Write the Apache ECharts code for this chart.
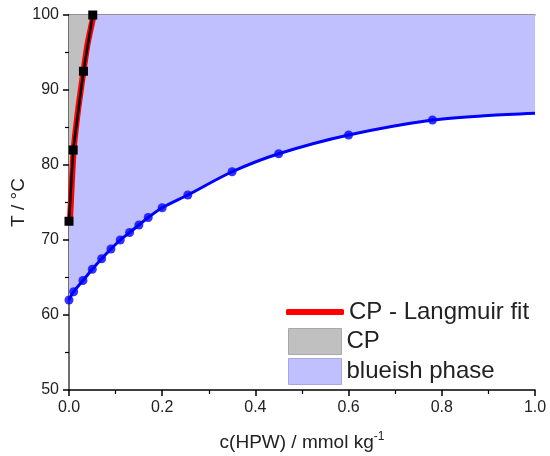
<!DOCTYPE html>
<html><head><meta charset="utf-8">
<script src="https://cdn.jsdelivr.net/npm/echarts@6/dist/echarts.min.js"></script>
<style>html,body{margin:0;padding:0;background:#fff}#c{width:550px;height:456px}</style>
</head><body><div id="c"></div>
<script>
// CP (cloud point) measured points
const cpX = [0.0, 0.009, 0.031, 0.051];
const cpY = [72.5, 82.0, 92.5, 100.0];
// CP - Langmuir fit
const fitX = [0.002, 0.01, 0.02, 0.031, 0.04, 0.053];
const fitY = [72.5, 82.0, 87.6, 92.5, 96.2, 100.0];
// blueish phase boundary (measured)
const blueX = [0, 0.01, 0.03, 0.05, 0.07, 0.09, 0.11, 0.13, 0.15, 0.17, 0.2, 0.255, 0.35, 0.45, 0.6, 0.78];
const blueY = [62.0, 63.1, 64.6, 66.1, 67.5, 68.8, 70.0, 71.0, 72.0, 73.0, 74.3, 76.0, 79.1, 81.5, 84.0, 86.0];
// fit extension of the boundary line
const tailX = [0.9, 1.0];
const tailY = [86.6, 86.9];
// tick labels
const xTicks = ['0.0','0.2','0.4','0.6','0.8','1.0'];

const pts = (xs, ys) => xs.map((x, i) => [x, ys[i]]);
const bluePts = pts(blueX, blueY);
const blueCurve = bluePts.concat(pts(tailX, tailY));

const chart = echarts.init(document.getElementById('c'));
const txt = '#222';
const font = 'Liberation Sans, Arial, sans-serif';
chart.setOption({
  animation: false,
  grid: {left: 69, right: 15, top: 15, bottom: 66, outerBoundsMode: 'none', containLabel: false},
  legend: [
    {left: 286, top: 299, padding: 0, itemWidth: 58, itemHeight: 6, selectedMode: false,
     textStyle: {fontSize: 24, fontFamily: font, color: txt, lineHeight: 26},
     data: [{name: 'CP - Langmuir fit', icon: 'roundRect', itemStyle: {color: '#ff0000', borderWidth: 0}}]},
    {left: 288, top: 328, padding: 0, itemWidth: 53, itemHeight: 26, selectedMode: false,
     textStyle: {fontSize: 24, fontFamily: font, color: txt, lineHeight: 26},
     data: [{name: 'CP', icon: 'rect', itemStyle: {color: '#c0c0c0', borderColor: '#a8a8a8', borderWidth: 1}}]},
    {left: 288, top: 358, padding: 0, itemWidth: 53, itemHeight: 26, selectedMode: false,
     textStyle: {fontSize: 24, fontFamily: font, color: txt, lineHeight: 26},
     data: [{name: 'blueish phase', icon: 'rect', itemStyle: {color: '#c0c0ff', borderColor: '#a8a8e0', borderWidth: 1}}]}
  ],
  xAxis: [{
    type: 'value', min: 0, max: 1, interval: 0.2,
    name: '{a|c(HPW) / mmol kg}{s|-1}', nameLocation: 'middle', nameGap: 41, nameMoveOverlap: false,
    nameTextStyle: {rich: {
      a: {fontSize: 19, fontFamily: font, color: txt},
      s: {fontSize: 12, fontFamily: font, color: txt, verticalAlign: 'top', padding: [0,0,11,0]}
    }},
    axisLine: {show: true, lineStyle: {color: '#000', width: 1.5}},
    axisTick: {show: true, inside: false, length: 6, lineStyle: {color: '#000', width: 1.5}},
    minorTick: {show: true, splitNumber: 2, length: 4, lineStyle: {color: '#000', width: 1.2}},
    splitLine: {show: false},
    axisLabel: {fontSize: 16, fontFamily: font, color: txt, margin: 10,
      formatter: v => xTicks[Math.round(v / 0.2)]}
  }, {
    type: 'value', min: 0, max: 1, position: 'top',
    axisLine: {show: true, lineStyle: {color: '#6f6f80', width: 1.5}},
    axisTick: {show: false}, axisLabel: {show: false}, splitLine: {show: false}
  }],
  yAxis: [{
    type: 'value', min: 50, max: 100, interval: 10,
    name: 'T / °C', nameLocation: 'middle', nameGap: 41, nameMoveOverlap: false,
    nameTextStyle: {fontSize: 19, fontFamily: font, color: txt},
    axisLine: {show: true, lineStyle: {color: '#000', width: 1.5}},
    axisTick: {show: true, inside: false, length: 6, lineStyle: {color: '#000', width: 1.5}},
    minorTick: {show: true, splitNumber: 2, length: 4, lineStyle: {color: '#000', width: 1.2}},
    splitLine: {show: false},
    axisLabel: {fontSize: 16, fontFamily: font, color: txt, margin: 10}
  }, {
    type: 'value', min: 50, max: 100, position: 'right',
    axisLine: {show: true, lineStyle: {color: '#808080', width: 1.5}},
    axisTick: {show: false}, axisLabel: {show: false}, splitLine: {show: false}
  }],
  series: [
    {name: 'blueish phase', type: 'line', data: blueCurve, smooth: 0.3, showSymbol: false, z: 1,
     lineStyle: {width: 0, color: '#c0c0ff'}, itemStyle: {color: '#c0c0ff'},
     areaStyle: {origin: 'end', color: '#c0c0ff', opacity: 1}},
    {name: 'CP', type: 'line', data: pts(cpX, cpY), showSymbol: false, z: 2,
     lineStyle: {width: 0, color: '#c0c0c0'}, itemStyle: {color: '#c0c0c0'},
     areaStyle: {origin: 'end', color: '#c0c0c0', opacity: 1}},
    {name: 'boundary', type: 'line', data: blueCurve, smooth: 0.3, showSymbol: false, z: 3,
     lineStyle: {width: 3, color: '#0000ff'}},
    {name: 'boundary points', type: 'scatter', data: bluePts, symbol: 'circle', symbolSize: 9, z: 4,
     itemStyle: {color: '#0000ff'}},
    {name: 'CP - Langmuir fit', type: 'line', data: pts(fitX, fitY), smooth: 0.15, showSymbol: false, z: 5,
     lineStyle: {width: 6, color: '#ff0000'}, itemStyle: {color: '#ff0000'}},
    {name: 'CP points', type: 'line', data: pts(cpX, cpY), symbol: 'rect', symbolSize: 9, z: 6,
     lineStyle: {width: 2.5, color: '#000'}, itemStyle: {color: '#000'}}
  ]
});
</script></body></html>
